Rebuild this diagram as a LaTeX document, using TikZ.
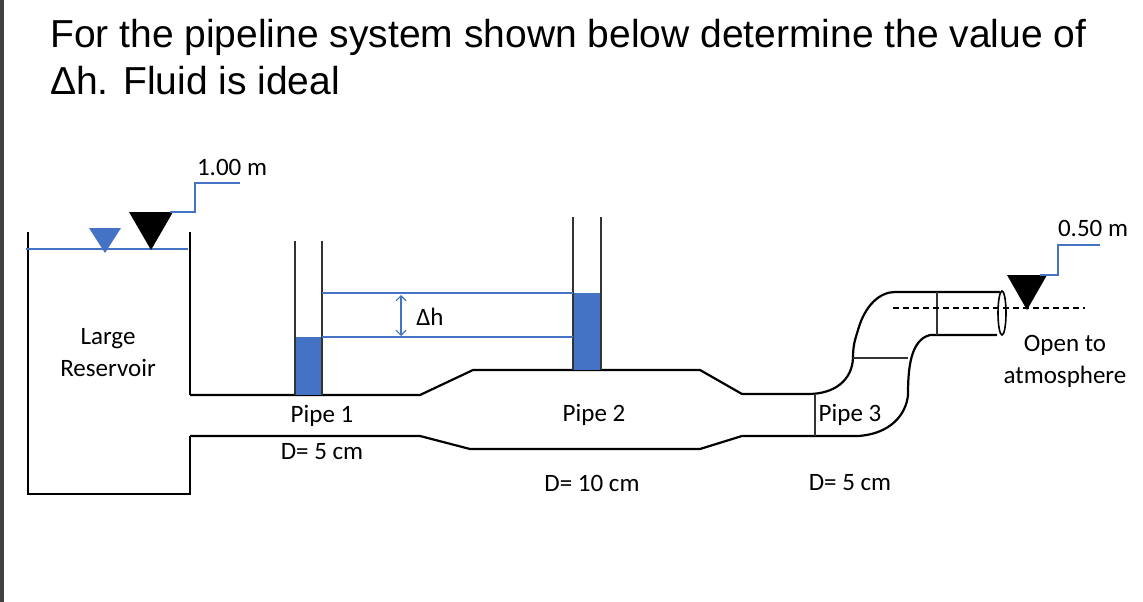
\documentclass[tikz,border=0pt]{standalone}
\usepackage{fontspec}
\usetikzlibrary{arrows.meta}
\setmainfont{Liberation Sans}
\newfontfamily\lab{Carlito}
\begin{document}
\begin{tikzpicture}[x=1pt,y=-1pt,
  wall/.style={line width=2.8pt,black},
  pipe/.style={line width=2.2pt,black,line join=round},
  thin/.style={line width=1.1pt,black!80},
  lbl/.style={font=\lab\fontsize{25}{30}\selectfont,inner sep=0pt},
  ttl/.style={font=\fontsize{39}{44}\selectfont,inner sep=0pt,anchor=west}]
\definecolor{wb}{RGB}{68,114,196}
\useasboundingbox (0,0) rectangle (1143,602);
\fill[black!75] (0,0) rectangle (4,602);
\node[ttl] (t1) at (50,37) {For the pipeline system shown below determine the value of};
\node[ttl] (t2) at (50,81) {Δh. Fluid is ideal};
% reservoir
\draw[wall] (28,232) -- (28,494) -- (190,494) -- (190,436);
\draw[wall] (190,232) -- (190,395);
\draw[wb,line width=1.3pt] (26,249) -- (188,249);
\fill[wb] (89,228) -- (121,228) -- (105,253) -- cycle;
\fill[black] (129,212) -- (173,212) -- (151,250) -- cycle;
\draw[wb,line width=1.1pt] (170,212) -- (195,212) -- (195,183) -- (240,183);
\node[lbl] (l1) at (232,167) {1.00 m};
\node[lbl] (res) at (108,354) {\begin{tabular}{c}Large\\[2pt]Reservoir\end{tabular}};
% pipes
\draw[pipe] (190,395) -- (420,395) -- (473,370) -- (700,370) -- (742,394) -- (808,394)
  .. controls (835,394) and (852,380) .. (853,358) .. controls (853,345) and (855,340) .. (858,330)
  .. controls (865,305) and (880,292) .. (895,292) -- (1000,292);
\draw[pipe] (190,436) -- (420,436) -- (470,449) -- (700,449) -- (742,436) -- (858,436)
  .. controls (890,434) and (906,415) .. (908,395) .. controls (908,370) and (910,340) .. (930,335) -- (997,335);
\draw[thin] (853,358) -- (908,358);
\draw[thin] (815,394) -- (815,436);
\draw[thin] (937,292) -- (937,335);
\draw[line width=1.6pt] (1002,313) ellipse (4 and 22);
\draw[dashed,line width=1.1pt,dash pattern=on 6pt off 4pt] (893,308) -- (1085,308);
\fill[black] (1007,275) -- (1047,275) -- (1027,310) -- cycle;
\draw[wb,line width=1.1pt] (1040,275) -- (1058,275) -- (1058,245) -- (1100,245);
\node[lbl] (l2) at (1093,228) {0.50 m};
\node[lbl] (open) at (1065,361) {\begin{tabular}{c}Open to\\[2pt]atmosphere\end{tabular}};
% piezometers
\fill[wb] (295,337) rectangle (322,395);
\fill[wb] (573,293) rectangle (601,370);
\draw[thin] (295,241) -- (295,395) (322,241) -- (322,395);
\draw[thin] (573,217) -- (573,370) (601,217) -- (601,370);
\draw[wb,line width=1.1pt] (322,293) -- (573,293) (322,337) -- (573,337);
\draw[wb,line width=1.1pt,{Straight Barb[length=5pt,width=10pt]}-{Straight Barb[length=5pt,width=10pt]}] (401,295) -- (401,336);
\node[lbl] (dh) at (430,317) {Δh};
\node[lbl] (p1) at (322,416) {Pipe 1};
\node[lbl] (d1) at (322,452) {D= 5 cm};
\node[lbl] (p2) at (594,415) {Pipe 2};
\node[lbl] (d2) at (592,483) {D= 10 cm};
\node[lbl] (p3) at (850,415) {Pipe 3};
\node[lbl] (d3) at (850,483) {D= 5 cm};
\end{tikzpicture}
\end{document}
